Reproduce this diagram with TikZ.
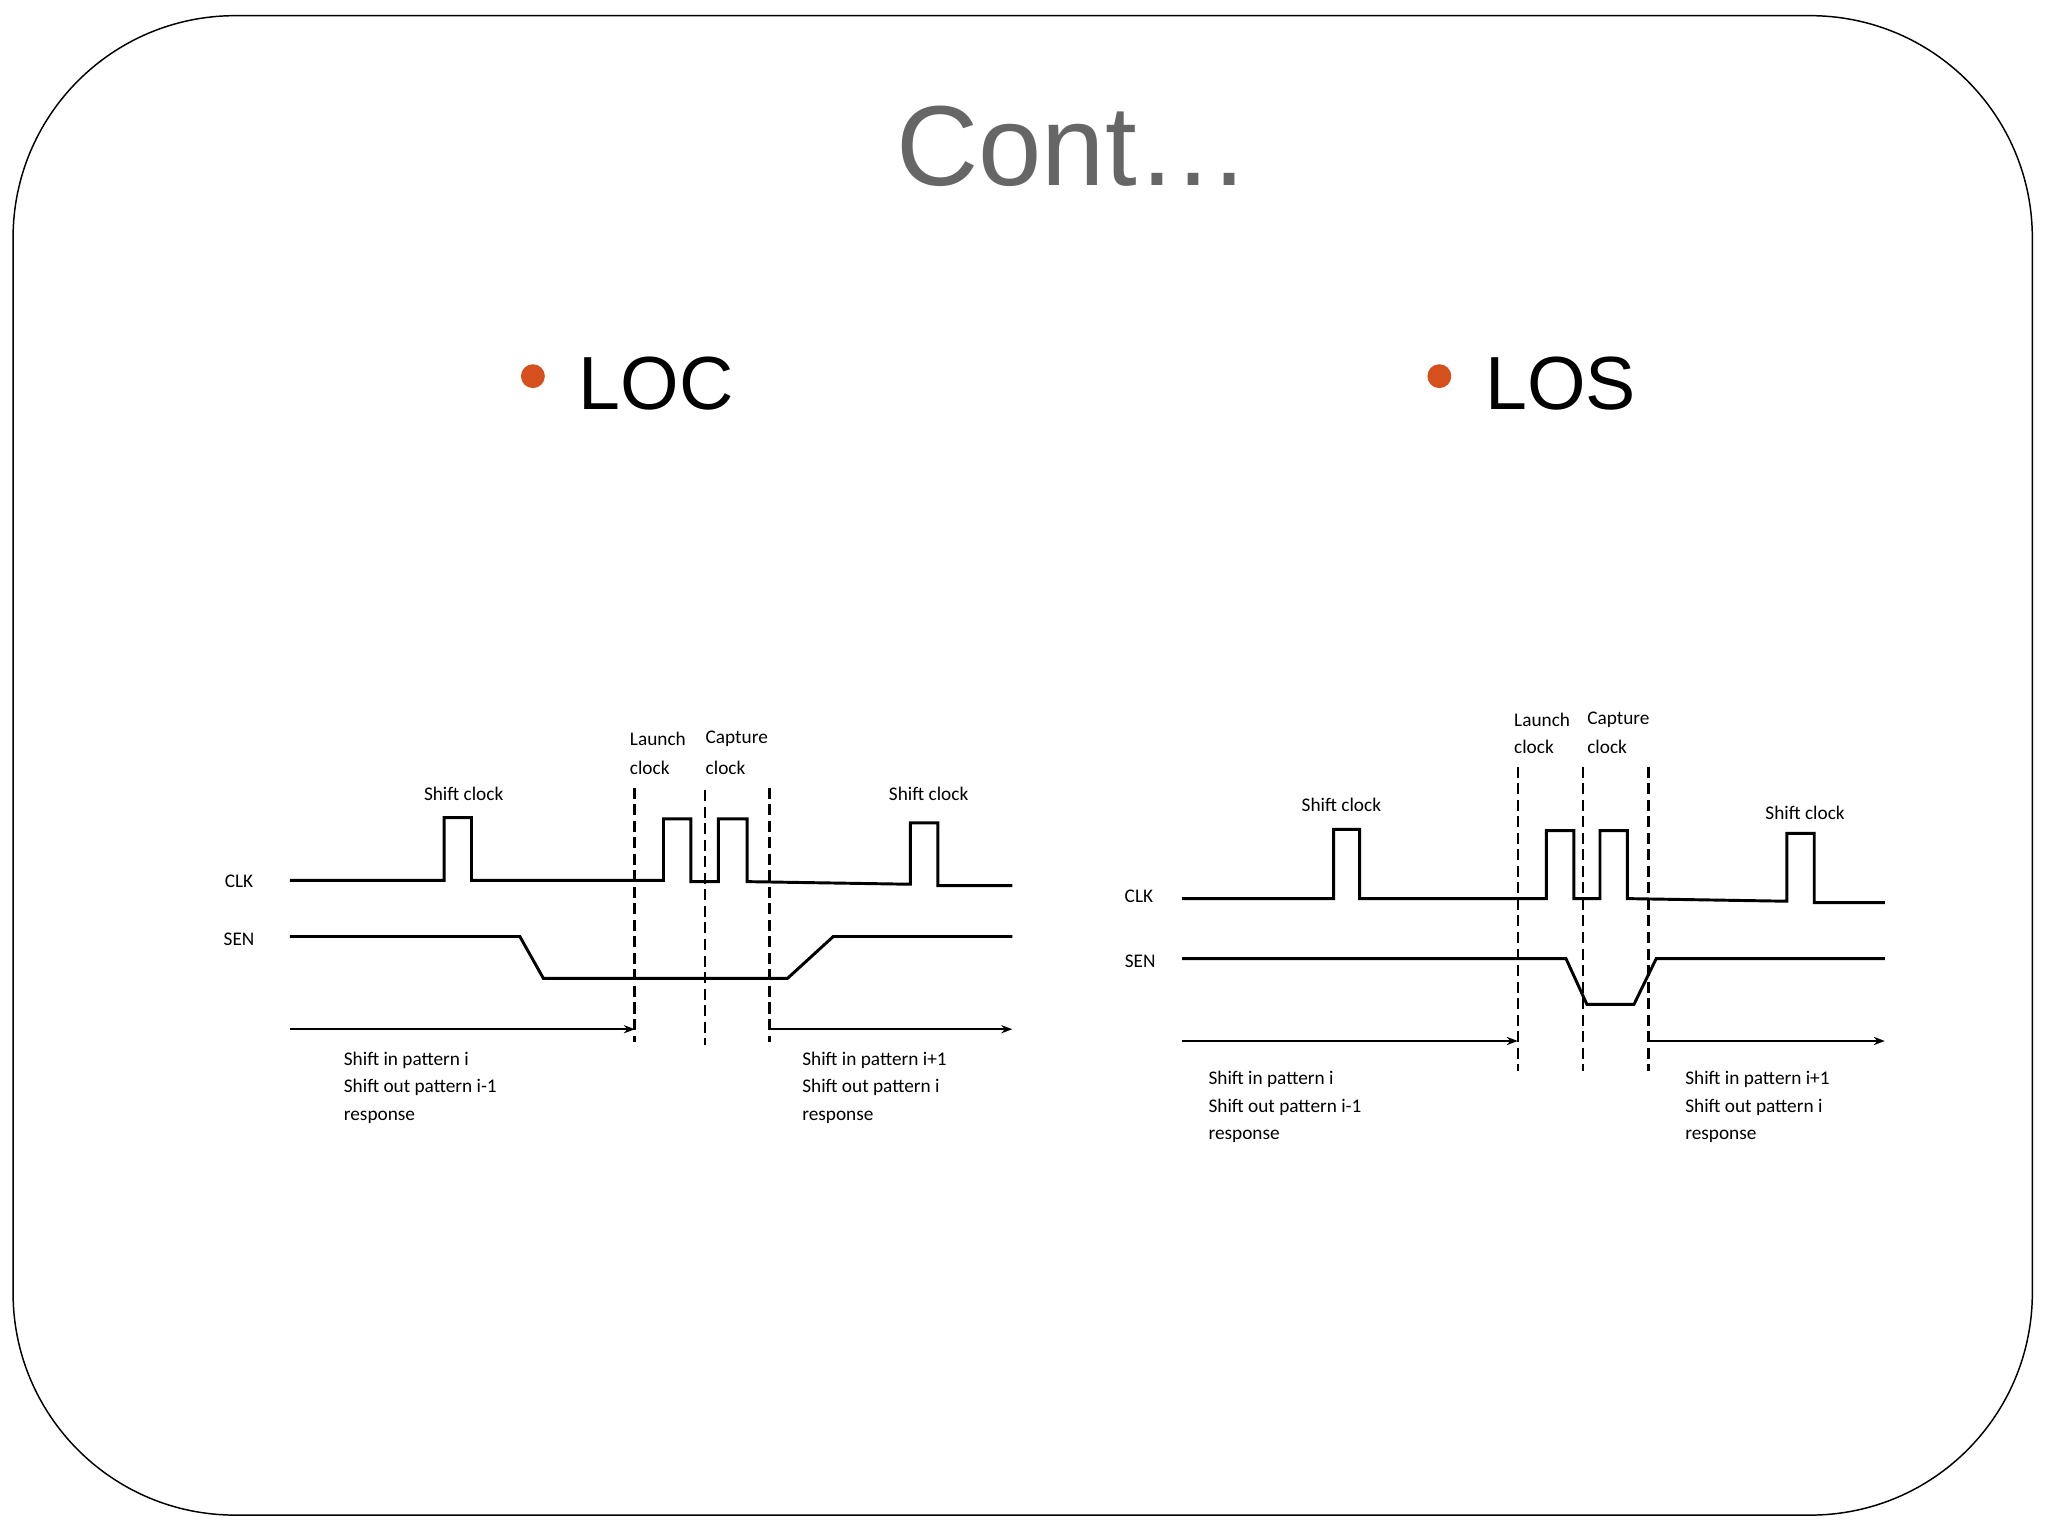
\documentclass[tikz,border=0pt]{standalone}
\usepackage{fontspec}
\setmainfont{Liberation Sans}
\newfontfamily\calfont{Carlito}
\usetikzlibrary{arrows.meta}
\definecolor{bulc}{RGB}{214,80,30}
\begin{document}
\begin{tikzpicture}[x=0.025cm,y=-0.025cm,
  sig/.style={line width=1.6pt},
  dsh/.style={line width=1.8pt,dash pattern=on 6pt off 3pt},
  dshl/.style={line width=1.2pt,dash pattern=on 6pt off 3pt},
  arr/.style={line width=0.8pt,-{Stealth[length=6pt]}},
  lbl/.style={font=\calfont\fontsize{10.5}{12}\selectfont,inner sep=0pt},
  blk/.style={font=\calfont\fontsize{10.5}{15}\selectfont,inner sep=0pt,align=left,anchor=north west},
  bul/.style={circle,fill=bulc,inner sep=0pt,minimum size=13pt}]
\useasboundingbox (0,0) rectangle (1568,1176);
\fill[white] (0,0) rectangle (1568,1176);
\draw[line width=0.8pt,rounded corners=4.25cm] (10,12) rectangle (1556,1160);
\node[text=black!60,font=\fontsize{62}{64}\selectfont] (title) at (822,112) {Cont…};
\node[bul] (b1) at (408,288) {};
\node[anchor=west,font=\fontsize{41}{43}\selectfont,inner sep=0pt] (loc) at (443,294) {LOC};
\node[bul] (b2) at (1102,288) {};
\node[anchor=west,font=\fontsize{41}{43}\selectfont,inner sep=0pt] (los) at (1137,294) {LOS};
% LOC
\draw[sig] (222,674) -- (340,674) -- (340,626) -- (361,626) -- (361,674) -- (508,674) -- (508,627) -- (529,627) -- (529,675) -- (550,675) -- (550,627) -- (572,627) -- (572,675) -- (697,677) -- (697,630) -- (718,630) -- (718,678) -- (775,678);
\draw[sig] (222,717) -- (398,717) -- (416,749) -- (603,749) -- (638,717) -- (775,717);
\draw[dsh] (486,603) -- (486,798);
\draw[dshl] (540,605) -- (540,800);
\draw[dsh] (589,603) -- (589,798);
\coordinate (a1s) at (222,788); \coordinate (a1e) at (486,788);
\coordinate (a2s) at (589,788); \coordinate (a2e) at (775,788);
\draw[arr] (a1s) -- (a1e); \draw[arr] (a2s) -- (a2e);
\node[lbl] (clk1) at (183,675) {CLK};
\node[lbl] (sen1) at (183,719) {SEN};
\node[lbl] (sc1) at (355,608) {Shift clock};
\node[lbl] (sc2) at (711,608) {Shift clock};
\node[lbl,anchor=west] (lc1) at (482,566) {Launch};
\node[lbl,anchor=west] (lc1b) at (482,588) {clock};
\node[lbl,anchor=west] (cc1) at (540,566) {Capture};
\node[lbl,anchor=west] (cc1b) at (540,588) {clock};
\node[blk] (t1) at (263,805) {Shift in pattern i\\Shift out pattern i-1\\response};
\node[blk] (t2) at (614,805) {Shift in pattern i+1\\Shift out pattern i\\response};
% LOS
\draw[sig] (905,688) -- (1021,688) -- (1021,635) -- (1041,635) -- (1041,688) -- (1184,688) -- (1184,636) -- (1205,636) -- (1205,688) -- (1225,688) -- (1225,636) -- (1246,636) -- (1246,688) -- (1368,690) -- (1368,638) -- (1389,638) -- (1389,691) -- (1443,691);
\draw[sig] (905,734) -- (1199,734) -- (1215,769) -- (1251,769) -- (1268,734) -- (1443,734);
\draw[dshl] (1162,587) -- (1162,820);
\draw[dshl] (1212,587) -- (1212,820);
\draw[dsh] (1262,587) -- (1262,820);
\coordinate (a3s) at (905,797); \coordinate (a3e) at (1162,797);
\coordinate (a4s) at (1262,797); \coordinate (a4e) at (1443,797);
\draw[arr] (a3s) -- (a3e); \draw[arr] (a4s) -- (a4e);
\node[lbl] (clk2) at (872,686) {CLK};
\node[lbl] (sen2) at (873,736) {SEN};
\node[lbl] (sc3) at (1027,616) {Shift clock};
\node[lbl] (sc4) at (1382,622) {Shift clock};
\node[lbl,anchor=west] (lc2) at (1159,551) {Launch};
\node[lbl,anchor=west] (lc2b) at (1159,572) {clock};
\node[lbl,anchor=west] (cc2) at (1215,551) {Capture};
\node[lbl,anchor=west] (cc2b) at (1215,572) {clock};
\node[blk] (t3) at (925,820) {Shift in pattern i\\Shift out pattern i-1\\response};
\node[blk] (t4) at (1290,820) {Shift in pattern i+1\\Shift out pattern i\\response};
\end{tikzpicture}
\end{document}
